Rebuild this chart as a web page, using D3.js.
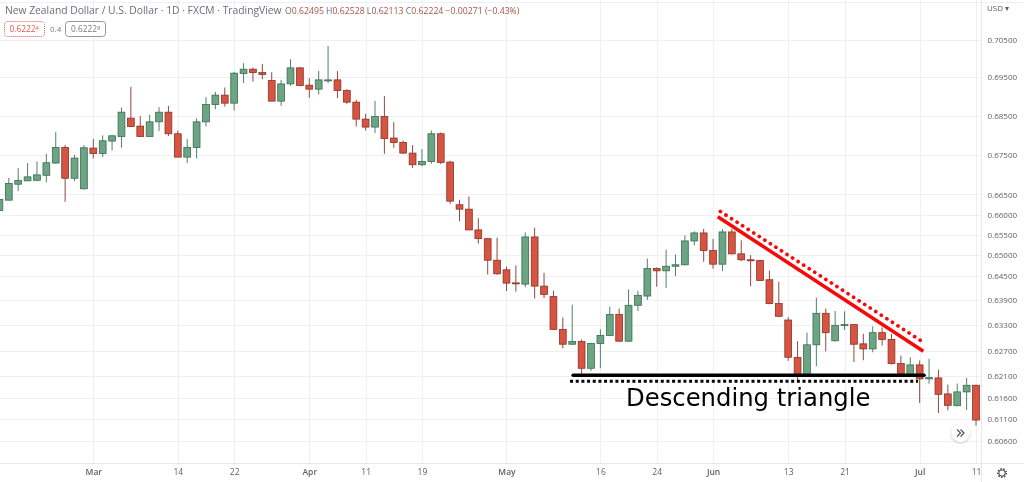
<!DOCTYPE html>
<html>
<head>
<meta charset="utf-8">
<script src="https://cdn.jsdelivr.net/npm/d3@7/dist/d3.min.js"></script>
<style>
    html, body { margin: 0; padding: 0; background: #fff; }
    svg { display: block; filter: blur(.3px); }
    text { font-family: "Open Sans", sans-serif; }
</style>
</head>
<body>
<div id="chart"></div>
<script>
// daily candles
var opens = [
    .6610, .66358, .66758, .66843, .66858, .66983, .67293, .67688, .66908, .66643,
    .67673, .67535, .67852, .6797, .68441, .68236, .6797, .68346, .68595, .68039,
    .67443, .67688, .68346, .68793, .69037, .68829, .69601, .69716, .69627, .69417,
    .68881, .69331, .6975, .69297, .69193, .69427, .69435, .69157, .68855, .68416,
    .68211, .68482, .67929, .67816, .67545, .6725, .67333, .68039, .67318, .66243,
    .66133, .65618, .65402, .64873, .64639, .64321, .64291, .65444, .64243, .63989,
    .63204, .62851, .62916, .62284, .62868, .6306, .63557, .62923, .6378, .64003,
    .64671, .64614, .64726, .64761, .65346, .65543, .6511, .64776, .65568, .65029,
    .64883, .64866, .64397, .63821, .63427, .62536, .62095, .62837, .63588, .62933,
    .633, .63317, .6286, .6274, .63125, .62964, .62394, .62095, .62363, .62035,
    .62058, .61685, .61413, .61732, .61886
]
var highs = [
    .6640, .66917, .67168, .67293, .67333, .67527, .68083, .6775, .675, .6775,
    .67904, .67996, .67996, .68715, .69253, .68492, .68527, .68725, .68759, .68124,
    .67904, .68441, .68985, .69123, .69235, .69645, .69874, .69758, .69856, .69637,
    .69435, .69979, .69769, .69479, .69672, .70329, .69664, .69193, .68915, .68552,
    .68889, .69011, .68339, .67868, .6775, .67648, .68124, .68072, .6735, .66368,
    .6645, .65908, .65419, .65427, .6472, .64744, .65558, .65675, .64566, .64133,
    .63485, .63797, .62964, .62885, .63204, .63749, .63701, .64164, .64133, .64915,
    .64695, .65134, .65012, .65483, .65583, .65643, .65395, .65643, .65643, .65361,
    .64995, .64883, .64622, .64349, .63492, .62923, .63125, .63965, .63701, .63643,
    .63636, .63317, .63101, .63276, .63252, .63093, .62582, .62543, .62465, .62504,
    .62253, .61902, .61925, .62058, .61902
]
var lows = [
    .66075, .6635, .66583, .66833, .66833, .66808, .67275, .66318, .66833, .66625,
    .67408, .67443, .67611, .67681, .68211, .6797, .6797, .68108, .6798, .67443,
    .67293, .67408, .68226, .68674, .68741, .68637, .69349, .69391, .69453, .68881,
    .68759, .69279, .69279, .68967, .69053, .69349, .68959, .68811, .68226, .68124,
    .68057, .67527, .67681, .67527, .67168, .67208, .67275, .67268, .66268, .65833,
    .65618, .6528, .64524, .64517, .64123, .64109, .64219, .63941, .63955, .63187,
    .62755, .62837, .62159, .62222, .62284, .63043, .62909, .62909, .63643, .63907,
    .64229, .64195, .64483, .64744, .65239, .64834, .64664, .64605, .65012, .64849,
    .64243, .6438, .63804, .63499, .62458, .61979, .62095, .6233, .62684, .62916,
    .63187, .62429, .62472, .6266, .6282, .6237, .62081, .62081, .61475, .61925,
    .61243, .61303, .61396, .61312, .60954
]
var closes = [
    .66375, .66775, .6685, .66943, .66993, .673, .67688, .66908, .67418, .67681,
    .67535, .6786, .67988, .68595, .68226, .6797, .68346, .68595, .68039, .67443,
    .67688, .68346, .68793, .69037, .68829, .69611, .69716, .69627, .69574, .68881,
    .69331, .6975, .69287, .69193, .69435, .69435, .69157, .68855, .68416, .68211,
    .68482, .67919, .67816, .67545, .6725, .67333, .68039, .67308, .66333, .66133,
    .65618, .65402, .64873, .64541, .64315, .64301, .65444, .64243, .64044, .63204,
    .62851, .62916, .62284, .62868, .6306, .63557, .62923, .6378, .6402, .64671,
    .64614, .64726, .64761, .65346, .65543, .6511, .64776, .65568, .65029, .64883,
    .64866, .6438, .63821, .63516, .62543, .62095, .62837, .63588, .63125, .633,
    .63317, .62851, .6274, .63125, .62964, .62394, .62095, .62363, .62035, .62065,
    .61676, .6142, .61732, .61886, .61081
]

var priceTicks = [.705, .695, .685, .675, .665, .66, .655, .65, .645, .639, .633, .627, .621, .616, .611, .606]
var dateTicks = [10, 19, 25, 33, 39, 45, 54, 64, 70, 76, 84, 90, 98, 104]
var dateLabels = ['Mar', '14', '22', 'Apr', '11', '19', 'May', '16', '24', 'Jun', '13', '21', 'Jul', '11']
var monthLabels = ['Mar', 'Apr', 'May', 'Jun', 'Jul']

// drawn trendlines, [bar index, price]
var redLine = [[76.5, .65945], [98.39, .62684]]
var redDots = [[76.78, .66075], [98.39, .62899]]
var blackLine = [[61.1, .6212], [98.47, .6212]]
var blackDots = [[60.77, .61979], [97.83, .61979]]

var width = 1024, height = 482
var axisX = 981.5, axisY = 463.5

var x = d3.scaleLinear().domain([0, 104]).range([-0.6, 976])
var y = d3.scaleLog().domain([.606, .705]).range([441, 39.5])

var svg = d3.select('#chart').append('svg')
    .attr('width', width)
    .attr('height', height)

svg.append('defs').append('clipPath').attr('id', 'pane')
    .append('rect').attr('width', axisX).attr('height', axisY)

// grid
var grid = svg.append('g').attr('stroke', '#eef0f3').attr('stroke-width', 1)
grid.selectAll('line.h').data(priceTicks).enter().append('line')
    .attr('class', 'h')
    .attr('x1', 0).attr('x2', axisX)
    .attr('y1', function(d) { return Math.round(y(d)) + .5 })
    .attr('y2', function(d) { return Math.round(y(d)) + .5 })
grid.selectAll('line.v').data(dateTicks).enter().append('line')
    .attr('class', 'v')
    .attr('x1', function(d) { return Math.round(x(d)) + .5 })
    .attr('x2', function(d) { return Math.round(x(d)) + .5 })
    .attr('y1', 0).attr('y2', axisY)
svg.append('line').attr('x1', 0).attr('x2', width).attr('y1', 2.5).attr('y2', 2.5).attr('stroke', '#eef0f3')

// candles
var bars = svg.append('g').attr('clip-path', 'url(#pane)')
    .selectAll('g').data(opens).enter().append('g')
bars.append('line')
    .attr('x1', function(d, i) { return x(i) })
    .attr('x2', function(d, i) { return x(i) })
    .attr('y1', function(d, i) { return y(highs[i]) })
    .attr('y2', function(d, i) { return y(lows[i]) })
    .attr('stroke', function(d, i) { return closes[i] >= d ? '#4f8367' : '#8e4a42' })
    .attr('stroke-width', 1)
bars.append('rect')
    .attr('x', function(d, i) { return x(i) - 3.4 })
    .attr('width', 6.8)
    .attr('y', function(d, i) { return y(Math.max(d, closes[i])) })
    .attr('height', function(d, i) { return Math.max(1, Math.abs(y(d) - y(closes[i]))) })
    .attr('fill', function(d, i) { return closes[i] >= d ? '#6ba583' : '#d75442' })
    .attr('stroke', function(d, i) { return closes[i] >= d ? '#3d6b52' : '#8a3327' })
    .attr('stroke-width', .8)

// annotations
var line = d3.line()
    .x(function(d) { return x(d[0]) })
    .y(function(d) { return y(d[1]) })
var marks = svg.append('g').attr('fill', 'none')
marks.append('path').attr('d', line(redDots))
    .attr('stroke', '#f80808').attr('stroke-width', 3.7)
    .attr('stroke-linecap', 'round').attr('stroke-dasharray', '0.1 6.5')
marks.append('path').attr('d', line(redLine))
    .attr('stroke', '#f80808').attr('stroke-width', 3.5)
marks.append('path').attr('d', line(blackDots))
    .attr('stroke', '#000').attr('stroke-width', 3).attr('stroke-dasharray', '3 2.67')
marks.append('path').attr('d', line(blackLine))
    .attr('stroke', '#000').attr('stroke-width', 3.6).attr('stroke-linecap', 'round')
svg.append('text')
    .attr('x', 626).attr('y', 406)
    .style('font-family', '"DejaVu Sans"')
    .style('font-size', '24.3px')
    .attr('fill', '#000')
    .text('Descending triangle')

// axes
var yAxis = d3.axisRight(y)
    .tickValues(priceTicks)
    .tickFormat(d3.format('.5f'))
    .tickSize(0)
    .tickPadding(6)
var yAxisG = svg.append('g')
    .attr('transform', 'translate(' + axisX + ',0)')
    .call(yAxis)
var xAxis = d3.axisBottom(x)
    .tickValues(dateTicks)
    .tickFormat(function(d, i) { return dateLabels[i] })
    .tickSize(0)
    .tickPadding(5)
var xAxisG = svg.append('g')
    .attr('transform', 'translate(0,' + axisY + ')')
    .call(xAxis)
yAxisG.selectAll('.domain, line').remove()
xAxisG.selectAll('.domain, line').remove()
svg.selectAll('.tick text')
    .style('font-family', '"Open Sans", sans-serif')
    .style('font-size', '8px')
    .attr('fill', '#5d606b')
xAxisG.selectAll('.tick text')
    .style('font-size', '8.5px')
    .style('font-weight', function(d, i) { return monthLabels.indexOf(dateLabels[i]) > -1 ? 600 : 400 })
svg.append('line').attr('x1', axisX).attr('x2', axisX).attr('y1', 0).attr('y2', height).attr('stroke', '#e6e8ec')
svg.append('line').attr('x1', 0).attr('x2', width).attr('y1', axisY).attr('y2', axisY).attr('stroke', '#e6e8ec')

svg.append('text').attr('x', 987).attr('y', 10.5)
    .style('font-size', '8px').attr('fill', '#5d606b').text('USD ▾')

// header
var title = svg.append('text').attr('x', 5).attr('y', 14)
    .style('font-size', '10.3px').attr('fill', '#6a6d78')
title.text('New Zealand Dollar / U.S. Dollar · 1D · FXCM · TradingView')
var quote = svg.append('text').attr('x', 285).attr('y', 13.5)
    .style('font-size', '8.7px').attr('fill', '#a8524a')
;[['O', '0.62495'], ['H', '0.62528'], ['L', '0.62113'], ['C', '0.62224']].forEach(function(q) {
    quote.append('tspan').attr('fill', '#6a6d78').text(q[0])
    quote.append('tspan').text(q[1] + ' ')
})
quote.append('tspan').text('−0.00271 (−0.43%)')

svg.append('rect').attr('x', 4.5).attr('y', 21.5).attr('width', 40).attr('height', 15).attr('rx', 3)
    .attr('fill', '#fff').attr('stroke', '#ef5350').attr('stroke-dasharray', '1 1')
var sell = svg.append('text').attr('x', 9.5).attr('y', 32).style('font-size', '8.3px').attr('fill', '#ef5350')
sell.text('0.6222')
sell.append('tspan').attr('dy', -2).style('font-size', '6px').text('4')
svg.append('text').attr('x', 50).attr('y', 32).style('font-size', '8px').attr('fill', '#787b86').text('0.4')
svg.append('rect').attr('x', 65.5).attr('y', 21.5).attr('width', 40).attr('height', 15).attr('rx', 3)
    .attr('fill', '#fff').attr('stroke', '#9598a1')
var buy = svg.append('text').attr('x', 71).attr('y', 32).style('font-size', '8.3px').attr('fill', '#787b86')
buy.text('0.6222')
buy.append('tspan').attr('dy', -2).style('font-size', '6px').text('8')

// scroll button and settings gear
var glow = svg.select('defs').append('filter').attr('id', 'glow')
glow.append('feDropShadow').attr('dx', 0).attr('dy', 1).attr('stdDeviation', 1.5).attr('flood-opacity', .25)
svg.append('circle').attr('cx', 960.5).attr('cy', 433).attr('r', 9).attr('fill', '#fff').attr('filter', 'url(#glow)')
svg.append('path').attr('d', d3.line()([[957, 429.5], [960.5, 433], [957, 436.5]]))
    .attr('fill', 'none').attr('stroke', '#50535e').attr('stroke-width', 1.2)
svg.append('path').attr('d', d3.line()([[960.5, 429.5], [964, 433], [960.5, 436.5]]))
    .attr('fill', 'none').attr('stroke', '#50535e').attr('stroke-width', 1.2)
svg.append('circle').attr('cx', 1002).attr('cy', 473).attr('r', 3.2)
    .attr('fill', 'none').attr('stroke', '#3c3f48').attr('stroke-width', 1)
svg.append('circle').attr('cx', 1002).attr('cy', 473).attr('r', 4.3)
    .attr('fill', 'none').attr('stroke', '#3c3f48').attr('stroke-width', 1.4).attr('stroke-dasharray', '1.5 1.5')
</script>
</body>
</html>
